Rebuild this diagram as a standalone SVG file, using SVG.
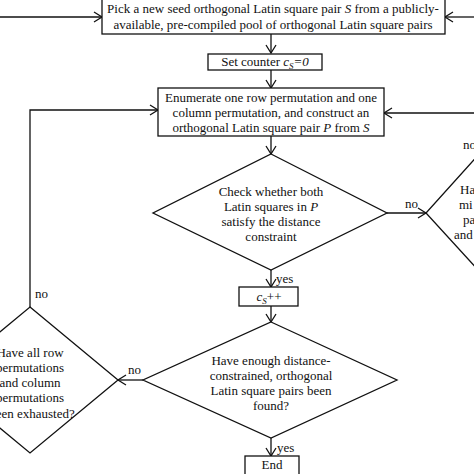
<svg xmlns="http://www.w3.org/2000/svg" width="474" height="474" viewBox="0 0 474 474">
<style>
.s{fill:none;stroke:#111;stroke-width:1.3}
.b{fill:#fff;stroke:#111;stroke-width:1.3}
text{font-family:"Liberation Serif","Times New Roman",serif;font-size:13px;fill:#111}
.m{text-anchor:middle}
.i{font-style:italic}
</style>
<defs>
<marker id="a" markerUnits="userSpaceOnUse" markerWidth="12" markerHeight="12" viewBox="-10 -6 12 12" refX="0" refY="0" orient="auto">
<path d="M-8,-5 L0,0 L-8,5" fill="none" stroke="#111" stroke-width="1.3"/>
</marker>
</defs>
<rect width="474" height="474" fill="#fff"/>
<g id="connectors" class="s" marker-end="url(#a)">
<line x1="0" y1="17" x2="102" y2="17"/>
<line x1="474" y1="17" x2="445" y2="17"/>
<line x1="271" y1="34" x2="271" y2="53"/>
<line x1="271" y1="70" x2="271" y2="88"/>
<line x1="271" y1="136" x2="271" y2="154"/>
<line x1="271" y1="270" x2="271" y2="287"/>
<line x1="271" y1="306" x2="271" y2="322"/>
<line x1="271" y1="438" x2="271" y2="456"/>
<line x1="387" y1="213" x2="426" y2="213"/>
<line x1="143" y1="380" x2="118" y2="380"/>
<polyline points="30,307 30,110 158,110"/>
<line x1="474" y1="113" x2="384" y2="113"/>
</g>
<g id="labels">
<text x="405" y="208">no</text>
<text x="128" y="374">no</text>
<text x="35" y="298">no</text>
<text x="463" y="149">no</text>
<text x="276" y="283">yes</text>
<text x="277" y="452">yes</text>
</g>
<g id="pick">
<rect class="b" x="102" y="-2" width="343" height="36"/>
<text class="m" x="273" y="13">Pick a new seed orthogonal Latin square pair <tspan class="i">S</tspan> from a publicly-</text>
<text class="m" x="273" y="29">available, pre-compiled pool of orthogonal Latin square pairs</text>
</g>
<g id="setcounter">
<rect class="b" x="208" y="54" width="114" height="16"/>
<text class="m" x="265" y="66">Set counter <tspan class="i">c<tspan font-size="9" dy="3">S</tspan><tspan dy="-3">=0</tspan></tspan></text>
</g>
<g id="enumerate">
<rect class="b" x="158" y="88" width="226" height="48"/>
<text class="m" x="271" y="102">Enumerate one row permutation and one</text>
<text class="m" x="271" y="117">column permutation, and construct an</text>
<text class="m" x="271" y="132">orthogonal Latin square pair <tspan class="i">P</tspan> from <tspan class="i">S</tspan></text>
</g>
<g id="check">
<polygon class="b" points="271,154 387,213 271,270 153,213"/>
<text class="m" x="271" y="196">Check whether both</text>
<text class="m" x="271" y="211">Latin squares in <tspan class="i">P</tspan></text>
<text class="m" x="271" y="226">satisfy the distance</text>
<text class="m" x="271" y="241">constraint</text>
</g>
<g id="rightdecision">
<polyline class="s" points="480,153 426,213 480,272"/>
<text x="460" y="194">Ha</text>
<text x="459" y="209">mi</text>
<text x="463" y="224">pa</text>
<text x="454" y="239">and</text>
</g>
<g id="counter">
<rect class="b" x="239" y="287" width="59" height="19"/>
<text class="m" x="269" y="301"><tspan class="i">c<tspan font-size="9" dy="3">S</tspan></tspan><tspan dy="-3">++</tspan></text>
</g>
<g id="enough">
<polygon class="b" points="271,322 397,380 271,438 143,380"/>
<text class="m" x="271" y="365">Have enough distance-</text>
<text class="m" x="271" y="380">constrained, orthogonal</text>
<text class="m" x="271" y="395">Latin square pairs been</text>
<text class="m" x="271" y="410">found?</text>
</g>
<g id="exhausted">
<polygon class="b" points="30,307 118,380 30,453 -58,380"/>
<text class="m" x="30" y="357">Have all row</text>
<text class="m" x="30" y="372">permutations</text>
<text class="m" x="30" y="387">and column</text>
<text class="m" x="30" y="402">permutations</text>
<text class="m" x="32" y="418">been exhausted?</text>
</g>
<g id="end">
<rect class="b" x="245" y="456" width="54" height="22"/>
<text class="m" x="272" y="469">End</text>
</g>
</svg>
